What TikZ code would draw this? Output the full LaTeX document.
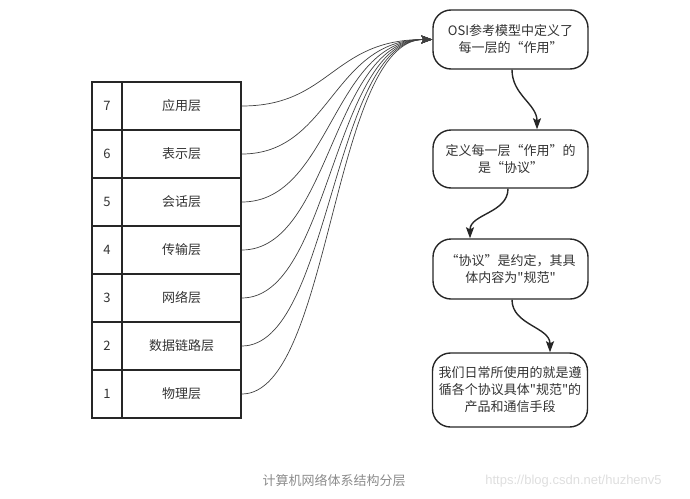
\documentclass[tikz,border=0pt]{standalone}
\usepackage{fontspec}
\setmainfont{Noto Sans CJK SC}[Ligatures=TeXOff]
\newfontfamily\urlfont{Liberation Sans}
\usetikzlibrary{arrows.meta}

\begin{document}
\begin{tikzpicture}[
  font=\fontsize{13}{17}\selectfont,
  >={Stealth[length=11pt,width=8pt,inset=2pt]},
  cell/.style={draw=black!85,line width=1.6pt,minimum height=48pt,
               inner sep=0pt,text=black!80},
  note/.style={draw=black!85,line width=1.4pt,rounded corners=18pt,
               minimum width=155pt,align=center,text=black!80},
  link/.style={->,draw=black!75,line width=0.7pt},
  flow/.style={->,draw=black!85,line width=1.4pt},
  caption/.style={text=black!45},
]
\useasboundingbox (0pt,0pt) rectangle (690pt,-498pt);

% ---- right: the chain of notes ----
\node[note,minimum height=59pt] (osi) at (510.5pt,-39.5pt)
     {OSI参考模型中定义了\\每一层的“作用”};
\node[note,minimum height=58pt] (proto) at (510.5pt,-159pt)
     {定义每一层“作用”的\\是“协议”};
\node[note,minimum height=60pt] (rule) at (510.5pt,-269pt)
     {“协议”是约定，其具\\体内容为"规范"};
\node[note,minimum height=74pt] (usage) at (510pt,-390pt)
     {我们日常所使用的就是遵\\循各个协议具体"规范"的\\产品和通信手段};

\draw[flow] ([xshift=1.5pt]osi.south)
      to[out=-90,in=90] ([xshift=26.5pt]proto.north);
\draw[flow] ([xshift=-2.5pt]proto.south)
      to[out=-90,in=90] ([xshift=-40.5pt]rule.north);
\draw[flow] ([xshift=1.5pt]rule.south)
      to[out=-90,in=90] ([xshift=40pt]usage.north);

% ---- left: the seven layers, each one linked to the first note ----
\foreach \num/\layer [count=\i from 0] in
    {7/应用层,6/表示层,5/会话层,4/传输层,3/网络层,2/数据链路层,1/物理层} {
  \node[cell,minimum width=30pt] (num\num) at (107pt,{-106pt-48pt*\i}) {\num};
  \node[cell,minimum width=119pt] (layer\num) at (181.5pt,{-106pt-48pt*\i})
       {\layer};
  \draw[link] (layer\num.east)
        to[out=0,in=180,out distance=89pt,in distance=100pt] (osi.west);
}

% caption and source line
\node[caption] (title) at (334pt,-481pt) {计算机网络体系结构分层};
\node[text=black!13,font=\urlfont\fontsize{13}{17}\selectfont] (source)
     at (573.5pt,-481pt) {https://blog.csdn.net/huzhenv5};

\end{tikzpicture}
\end{document}
